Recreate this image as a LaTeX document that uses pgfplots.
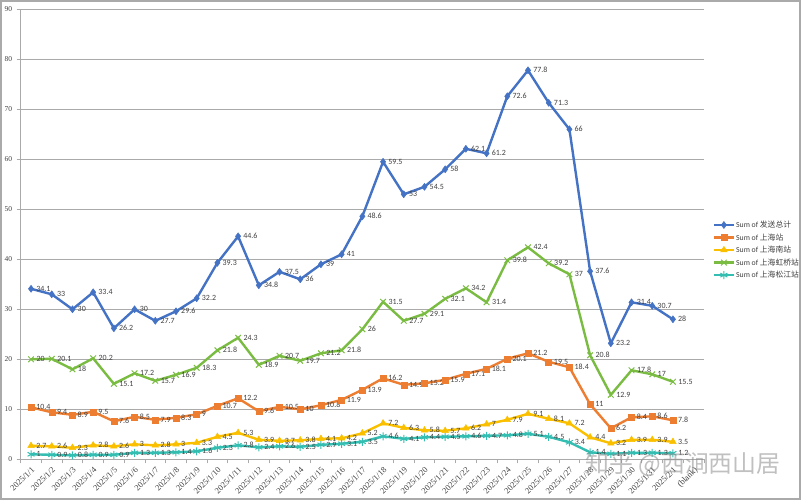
\documentclass[border=0pt]{standalone}
\usepackage{pgfplots}
\pgfplotsset{compat=1.18}
\usepackage{fontspec}
\setmainfont{Carlito}
\newfontfamily\cjk{Noto Sans CJK SC}
\newfontfamily\tickfont{Liberation Serif}
\definecolor{cBlue}{RGB}{68,114,196}
\definecolor{cOrange}{RGB}{237,125,49}
\definecolor{cYellow}{RGB}{250,192,0}
\definecolor{cGreen}{RGB}{122,188,66}
\definecolor{cTeal}{RGB}{52,190,178}
\definecolor{cGrid}{RGB}{170,170,170}
\definecolor{cText}{RGB}{64,64,64}
\begin{document}
\begin{tikzpicture}
\useasboundingbox (0,0) rectangle (801bp,500bp);
\draw[cGrid, line width=1.6bp] (0.8bp,0.8bp) rectangle (800.2bp,499.2bp);
\begin{axis}[
  at={(20.7bp,40.7bp)}, anchor=south west,
  width=683.3bp, height=450bp, scale only axis,
  xmin=-0.5, xmax=32.5, ymin=0, ymax=90,
  axis x line=bottom, axis y line=left,
  axis line style={-, cGrid, line width=0.8bp},
  tick align=outside,
  major tick length=4bp, minor tick length=4bp,
  xtick={0,...,32},
  xticklabels={2025/1/1,2025/1/2,2025/1/3,2025/1/4,2025/1/5,2025/1/6,2025/1/7,2025/1/8,2025/1/9,2025/1/10,2025/1/11,2025/1/12,2025/1/13,2025/1/14,2025/1/15,2025/1/16,2025/1/17,2025/1/18,2025/1/19,2025/1/20,2025/1/21,2025/1/22,2025/1/23,2025/1/24,2025/1/25,2025/1/26,2025/1/27,2025/1/28,2025/1/29,2025/1/30,2025/1/31,2025/2/1,(blank)},
  major x tick style={draw=none},
  minor xtick={-0.5,0.5,...,32.5},
  minor x tick style={cGrid, line width=0.8bp},
  ytick={0,10,...,90},
  y tick style={cGrid, line width=0.8bp},
  ymajorgrids, grid style={cGrid, line width=0.8bp},
  xticklabel style={font=\tickfont\fontsize{8.5}{9}\selectfont, text=cText, rotate=45, anchor=north east, inner sep=1bp},
  yticklabel style={font=\tickfont\fontsize{7.5}{8}\selectfont, text=cText},
  /pgf/number format/assume math mode=true,
  clip=false,
  line width=2.4bp,
  nodes near coords,
  every node near coord/.append style={font=\fontsize{8}{9}\selectfont, text=cText, anchor=west, xshift=4bp, inner sep=1bp},
  legend style={draw=none, fill=none, at={(1.011,0.465)}, anchor=west,
    font=\fontsize{7.8}{8.5}\selectfont, text=cText, row sep=2.5bp, inner sep=0pt,
    nodes={inner sep=1bp},
    legend image code/.code={\draw[mark repeat=2,mark phase=2,#1] plot coordinates {(0bp,0bp) (10bp,0bp) (20bp,0bp)};}},
  legend cell align=left,
]
\addplot[cBlue, mark=diamond*, mark size=3.5bp, mark options={solid, line width=0.5bp}] coordinates {
(0,34.1) (1,33) (2,30) (3,33.4) (4,26.2) (5,30) (6,27.7) (7,29.6) (8,32.2) (9,39.3)
(10,44.6) (11,34.8) (12,37.5) (13,36) (14,39) (15,41) (16,48.6) (17,59.5) (18,53) (19,54.5)
(20,58) (21,62.1) (22,61.2) (23,72.6) (24,77.8) (25,71.3) (26,66) (27,37.6) (28,23.2) (29,31.4)
(30,30.7) (31,28)};
\addlegendentry{Sum of {\cjk 发送总计}}
\addplot[cOrange, mark=square*, mark size=3bp, mark options={solid, line width=0.5bp}] coordinates {
(0,10.4) (1,9.4) (2,8.9) (3,9.5) (4,7.6) (5,8.5) (6,7.9) (7,8.3) (8,9) (9,10.7)
(10,12.2) (11,9.6) (12,10.5) (13,10) (14,10.8) (15,11.9) (16,13.9) (17,16.2) (18,14.9) (19,15.2)
(20,15.9) (21,17.1) (22,18.1) (23,20.1) (24,21.2) (25,19.5) (26,18.4) (27,11) (28,6.2) (29,8.4)
(30,8.6) (31,7.8)};
\addlegendentry{Sum of {\cjk 上海站}}
\addplot[cYellow, mark=triangle*, mark size=3.8bp, mark options={solid, line width=0.5bp}] coordinates {
(0,2.7) (1,2.6) (2,2.3) (3,2.8) (4,2.6) (5,3) (6,2.8) (7,3) (8,3.3) (9,4.5)
(10,5.3) (11,3.9) (12,3.7) (13,3.8) (14,4.1) (15,4.2) (16,5.2) (17,7.2) (18,6.3) (19,5.8)
(20,5.7) (21,6.2) (22,7) (23,7.9) (24,9.1) (25,8.1) (26,7.2) (27,4.4) (28,3.2) (29,3.9)
(30,3.9) (31,3.5)};
\addlegendentry{Sum of {\cjk 上海南站}}
\addplot[cGreen, mark=x, mark size=4bp, mark options={solid, line width=1bp}] coordinates {
(0,20) (1,20.1) (2,18) (3,20.2) (4,15.1) (5,17.2) (6,15.7) (7,16.9) (8,18.3) (9,21.8)
(10,24.3) (11,18.9) (12,20.7) (13,19.7) (14,21.2) (15,21.8) (16,26) (17,31.5) (18,27.7) (19,29.1)
(20,32.1) (21,34.2) (22,31.4) (23,39.8) (24,42.4) (25,39.2) (26,37) (27,20.8) (28,12.9) (29,17.8)
(30,17) (31,15.5)};
\addlegendentry{Sum of {\cjk 上海虹桥站}}
\addplot[cTeal, mark=asterisk, mark size=4bp, mark options={solid, line width=1bp}] coordinates {
(0,1) (1,0.9) (2,0.8) (3,0.9) (4,0.9) (5,1.3) (6,1.3) (7,1.4) (8,1.6) (9,2.3)
(10,2.8) (11,2.4) (12,2.6) (13,2.5) (14,2.9) (15,3.1) (16,3.5) (17,4.6) (18,4.1) (19,4.4)
(20,4.5) (21,4.6) (22,4.7) (23,4.8) (24,5.1) (25,4.5) (26,3.4) (27,1.4) (28,1.1) (29,1.3)
(30,1.3) (31,1.2)};
\addlegendentry{Sum of {\cjk 上海松江站}}
\end{axis}
\node[text=black!45, opacity=0.55, font=\cjk\fontsize{24}{24}\selectfont] at (683bp,35bp) {知乎 @西涧西山居};
\end{tikzpicture}
\end{document}
